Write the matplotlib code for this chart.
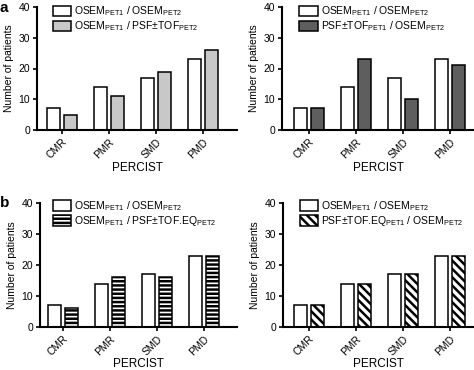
import numpy as np
import matplotlib
matplotlib.use("Agg")
import matplotlib.pyplot as plt

plt.rcParams['font.family'] = ['Liberation Sans', 'DejaVu Sans']
plt.rcParams['mathtext.fontset'] = 'custom'
plt.rcParams['mathtext.rm'] = 'Liberation Sans'
plt.rcParams['hatch.linewidth'] = 1.8

# data
categories = ['CMR', 'PMR', 'SMD', 'PMD']
osem_osem = [7, 14, 17, 23]
osem_psf = [5, 11, 19, 26]
psf_osem = [7, 23, 10, 21]
osem_eq = [6, 16, 16, 23]
eq_osem = [7, 14, 17, 23]

lab_ref = r'OSEM$_{\mathrm{PET1}}$ / OSEM$_{\mathrm{PET2}}$'
lab_a1 = r'OSEM$_{\mathrm{PET1}}$ / PSF±TOF$_{\mathrm{PET2}}$'
lab_a2 = r'PSF±TOF$_{\mathrm{PET1}}$ / OSEM$_{\mathrm{PET2}}$'
lab_b1 = r'OSEM$_{\mathrm{PET1}}$ / PSF±TOF.EQ$_{\mathrm{PET2}}$'
lab_b2 = r'PSF±TOF.EQ$_{\mathrm{PET1}}$ / OSEM$_{\mathrm{PET2}}$'

W, H = 474, 370
fig = plt.figure(figsize=(W / 100, H / 100), dpi=100)


def px_axes(x0, x1, ytop, ybot):
    return fig.add_axes([x0 / W, 1 - ybot / H, (x1 - x0) / W, (ybot - ytop) / H])


def panel(ax, second, color, hatch, label2, x0, width_px, leg_xy, xlab_y):
    x = np.arange(len(categories))
    w = 0.27
    ax.bar(x - 0.18, osem_osem, w, color='white', edgecolor='black', lw=1.1,
           label=lab_ref)
    ax.bar(x + 0.18, second, w, color=color, edgecolor='black', lw=1.1,
           hatch=hatch, label=label2)
    ax.set_xlim(x0, x0 + width_px / 47.0)
    ax.set_ylim(0, 40)
    ax.set_yticks([0, 10, 20, 30, 40])
    ax.set_xticks(x)
    ax.set_xticklabels(categories, rotation=45, ha='right', va='top',
                       rotation_mode='anchor')
    for s in ['top', 'right']:
        ax.spines[s].set_visible(False)
    for s in ['left', 'bottom']:
        ax.spines[s].set_linewidth(1.5)
    ax.tick_params(width=1.2, length=3, labelsize=7.5, pad=2)
    ax.set_ylabel('Number of patients', fontsize=7.5, labelpad=3)
    ax.set_xlabel('PERCIST', fontsize=8.5, va='center')
    ax.xaxis.set_label_coords(0.5, xlab_y)
    ax.legend(loc='upper left', bbox_to_anchor=leg_xy, frameon=False,
              fontsize=7.5, borderpad=0, borderaxespad=0, handlelength=1.75,
              handleheight=1.2, handletextpad=0.3, labelspacing=0.1)


ax1 = px_axes(37, 237, 7, 130)
panel(ax1, osem_psf, '#c8c8c8', None, lab_a1, -0.53, 200, (0.08, 1.02), -0.31)
ax2 = px_axes(282, 474, 7, 130)
panel(ax2, psf_osem, '#5e5e5e', None, lab_a2, -0.57, 192, (0.09, 1.02), -0.31)
ax3 = px_axes(40, 237, 203, 327)
panel(ax3, osem_eq, 'white', '----', lab_b1, -0.485, 197, (0.066, 1.03), -0.295)
ax4 = px_axes(283, 474, 203, 327)
panel(ax4, eq_osem, 'white', '\\\\\\\\', lab_b2, -0.55, 191, (0.089, 1.03), -0.295)

fig.text(0.0, 1 - 1 / H, 'a', fontsize=11, fontweight='bold', va='top', ha='left')
fig.text(0.0, 1 - 196 / H, 'b', fontsize=11, fontweight='bold', va='top', ha='left')

fig.savefig('out.png', dpi=100)
